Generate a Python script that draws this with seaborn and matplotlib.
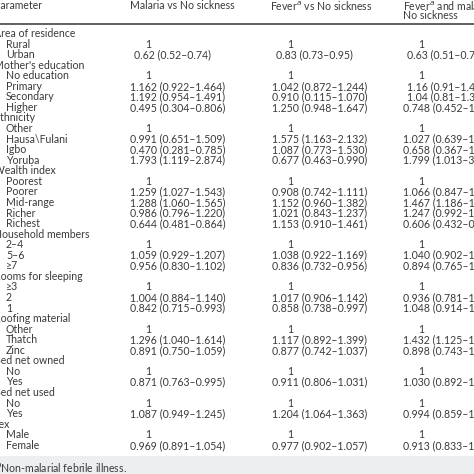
import matplotlib
matplotlib.use("Agg")
import matplotlib.pyplot as plt
import seaborn as sns

sns.set_theme(style="white")
plt.rcParams['font.family'] = ['Lato', 'DejaVu Sans']

headers = ["Parameter", "Malaria vs No sickness", "Fever$^{a}$ vs No sickness", "Fever$^{a}$ and malaria vs\nNo sickness"]
row_labels = ["Area of residence", "Rural", "Urban", "Mother's education", "No education", "Primary", "Secondary", "Higher",
              "Ethnicity", "Other", "Hausa\\Fulani", "Igbo", "Yoruba", "Wealth index", "Poorest", "Poorer", "Mid-range",
              "Richer", "Richest", "Household members", "2–4", "5–6", "≥7", "Rooms for sleeping", "≥3", "2", "1",
              "Roofing material", "Other", "Thatch", "Zinc", "Bed net owned", "No", "Yes", "Bed net used", "No", "Yes",
              "Sex", "Male", "Female"]
is_group = [True, False, False, True, False, False, False, False, True, False, False, False, False, True, False, False,
            False, False, False, True, False, False, False, True, False, False, False, True, False, False, False, True,
            False, False, True, False, False, True, False, False]
malaria = ["", "1", "0.62 (0.52–0.74)", "", "1", "1.162 (0.922–1.464)", "1.192 (0.954–1.491)", "0.495 (0.304–0.806)",
           "", "1", "0.991 (0.651–1.509)", "0.470 (0.281–0.785)", "1.793 (1.119–2.874)", "", "1", "1.259 (1.027–1.543)",
           "1.288 (1.060–1.565)", "0.986 (0.796–1.220)", "0.644 (0.481–0.864)", "", "1", "1.059 (0.929–1.207)",
           "0.956 (0.830–1.102)", "", "1", "1.004 (0.884–1.140)", "0.842 (0.715–0.993)", "", "1", "1.296 (1.040–1.614)",
           "0.891 (0.750–1.059)", "", "1", "0.871 (0.763–0.995)", "", "1", "1.087 (0.949–1.245)", "", "1",
           "0.969 (0.891–1.054)"]
fever = ["", "1", "0.83 (0.73–0.95)", "", "1", "1.042 (0.872–1.244)", "0.910 (0.115–1.070)", "1.250 (0.948–1.647)",
         "", "1", "1.575 (1.163–2.132)", "1.087 (0.773–1.530)", "0.677 (0.463–0.990)", "", "1", "0.908 (0.742–1.111)",
         "1.152 (0.960–1.382)", "1.021 (0.843–1.237)", "1.153 (0.910–1.461)", "", "1", "1.038 (0.922–1.169)",
         "0.836 (0.732–0.956)", "", "1", "1.017 (0.906–1.142)", "0.858 (0.738–0.997)", "", "1", "1.117 (0.892–1.399)",
         "0.877 (0.742–1.037)", "", "1", "0.911 (0.806–1.031)", "", "1", "1.204 (1.064–1.363)", "", "1",
         "0.977 (0.902–1.057)"]
both = ["", "1", "0.63 (0.51–0.77)", "", "1", "1.16 (0.91–1.49)", "1.04 (0.81–1.32)", "0.748 (0.452–1.238)",
        "", "1", "1.027 (0.639–1.652)", "0.658 (0.367–1.178)", "1.799 (1.013–3.197)", "", "1", "1.066 (0.847–1.342)",
        "1.467 (1.186–1.815)", "1.247 (0.992–1.568)", "0.606 (0.432–0.851)", "", "1", "1.040 (0.902–1.199)",
        "0.894 (0.765–1.045)", "", "1", "0.936 (0.781–1.121)", "1.048 (0.914–1.201)", "", "1", "1.432 (1.125–1.821)",
        "0.898 (0.743–1.086)", "", "1", "1.030 (0.892–1.188)", "", "1", "0.994 (0.859–1.150)", "", "1",
        "0.913 (0.833–1.002)"]
footnote = "$^{a}$Non-malarial febrile illness."

W = H = 474
fig = plt.figure(figsize=(4.74, 4.74), dpi=100)
ax = fig.add_axes([0, 0, 1, 1])
ax.set_xlim(0, W)
ax.set_ylim(H, 0)
ax.axis("off")

col = "#3a3a3a"
fs = 7.6
ax.text(-6, 5, headers[0], fontsize=fs, color=col, va="center")
ax.text(130, 5, headers[1], fontsize=fs, color=col, va="center")
ax.text(270, 5, headers[2], fontsize=fs, color=col, va="center")
ax.text(403, 5, headers[3].split("\n")[0], fontsize=fs, color=col, va="center")
ax.text(403, 15, headers[3].split("\n")[1], fontsize=fs, color=col, va="center")
ax.plot([0, W], [23.5, 23.5], color="#555555", lw=1.3)

y0, dy = 33.5, 10.56
for i, lab in enumerate(row_labels):
    y = y0 + i * dy
    ax.text(-6 if is_group[i] else 6, y, lab, fontsize=fs, color=col, va="center")
    for x, vals in ((130, malaria), (272, fever), (403, both)):
        v = vals[i]
        if v == "1":
            ax.text(x + 15, y, v, fontsize=fs, color=col, va="center")
        elif v:
            ax.text(x + (4 if len(v) < 18 else 0), y, v, fontsize=fs, color=col, va="center")

ax.add_patch(plt.Rectangle((0, 456), W, 20, color="#eceef0", lw=0))
ax.text(-4, 468, footnote, fontsize=fs, color=col, va="center")

fig.savefig("out.png", dpi=100)
